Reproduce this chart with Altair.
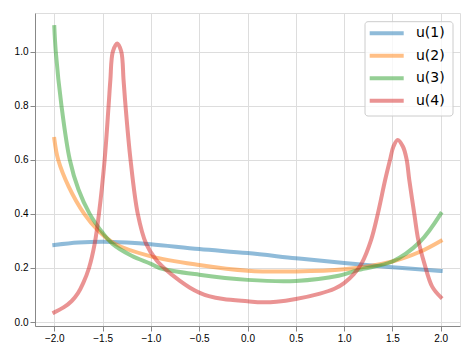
import altair as alt
import pandas as pd

# ---- data ----
x_u1 = [-2.0, -1.75, -1.5, -1.25, -1.0, -0.5, 0.0, 0.5, 1.0, 1.5, 2.0]
y_u1 = [0.285, 0.294, 0.297, 0.294, 0.288, 0.270, 0.255, 0.236, 0.218, 0.203, 0.189]

x_u2 = [-2.0, -1.96, -1.85, -1.69, -1.55, -1.376, -1.0, -0.5, 0.0, 0.5, 1.0, 1.5, 1.786, 2.0]
y_u2 = [0.677, 0.600, 0.500, 0.400, 0.340, 0.290, 0.243, 0.211, 0.190, 0.187, 0.195, 0.224, 0.260, 0.300]

x_u3 = [-2.0, -1.985, -1.926, -1.84, -1.75, -1.634, -1.5, -1.4, -1.2, -1.0, -0.912, -0.5,
        0.0, 0.5, 0.944, 1.15, 1.5, 1.786, 2.0]
y_u3 = [1.090, 1.000, 0.800, 0.600, 0.490, 0.400, 0.330, 0.290, 0.245, 0.215, 0.200, 0.175,
        0.156, 0.152, 0.171, 0.193, 0.224, 0.297, 0.400]

x_u4 = [-2.0, -1.9, -1.82, -1.755, -1.70, -1.641, -1.582, -1.538, -1.479, -1.438, -1.42,
        -1.394, -1.348, -1.307, -1.283, -1.263, -1.211, -1.136, -1.05, -0.946, -0.85, -0.7,
        -0.6, -0.5, -0.4, -0.25, 0.0, 0.15, 0.3, 0.5, 0.75, 0.9, 1.0, 1.1, 1.183, 1.28, 1.349,
        1.425, 1.476, 1.51, 1.555, 1.61, 1.648, 1.675, 1.727, 1.768, 1.83, 1.912, 2.0]
y_u4 = [0.036, 0.055, 0.078, 0.107, 0.145, 0.200, 0.290, 0.400, 0.600, 0.800, 0.894,
        1.000, 1.030, 1.000, 0.894, 0.800, 0.600, 0.400, 0.290, 0.230, 0.195, 0.152,
        0.128, 0.109, 0.096, 0.085, 0.077, 0.073, 0.075, 0.085, 0.105, 0.123, 0.144, 0.177, 0.218, 0.304, 0.400,
        0.525, 0.600, 0.648, 0.673, 0.648, 0.600, 0.525, 0.400, 0.304, 0.218, 0.131, 0.092]

series = ["u(1)", "u(2)", "u(3)", "u(4)"]
colors = ["#1f77b4", "#ff7f0e", "#2ca02c", "#d62728"]
x_ticks = [-2.0, -1.5, -1.0, -0.5, 0.0, 0.5, 1.0, 1.5, 2.0]
y_ticks = [0.0, 0.2, 0.4, 0.6, 0.8, 1.0]

rows = []
for i, (name, xs, ys) in enumerate(zip(series, [x_u1, x_u2, x_u3, x_u4], [y_u1, y_u2, y_u3, y_u4])):
    for j, (xv, yv) in enumerate(zip(xs, ys)):
        rows.append({"series": name, "idx": j, "x": xv, "y": yv})
df = pd.DataFrame(rows)

color_scale = alt.Scale(domain=series, range=colors)

lines = alt.Chart(df).mark_line(
    strokeWidth=4, opacity=0.5, interpolate="catmull-rom", strokeCap="square"
).encode(
    x=alt.X("x:Q", scale=alt.Scale(domain=[-2.2, 2.2], nice=False, zero=False),
            axis=alt.Axis(values=x_ticks, format=".1f", title=None)),
    y=alt.Y("y:Q", scale=alt.Scale(domain=[-0.0145, 1.1425], nice=False, zero=False),
            axis=alt.Axis(values=y_ticks, format=".1f", title=None)),
    color=alt.Color("series:N", scale=color_scale, legend=None),
    detail="series:N",
    order="idx:Q",
)

# ---- legend drawn as marks (upper right, matplotlib style) ----
legend_df = pd.DataFrame({"series": series})
box_df = pd.DataFrame({"k": [0]})

legend_box = alt.Chart(box_df).mark_rect(
    fill="white", fillOpacity=0.8, stroke="#cccccc", strokeWidth=1, cornerRadius=3
).encode(
    x=alt.value(330), x2=alt.value(418), y=alt.value(8.7), y2=alt.value(103)
)

leg_y = alt.Y("series:N", scale=alt.Scale(type="point", domain=series, range=[20.3, 87.7], padding=0),
              axis=None)

legend_lines = alt.Chart(legend_df).mark_rule(strokeWidth=4, opacity=0.5, strokeCap="butt").encode(
    x=alt.value(334.7), x2=alt.value(368.7), y=leg_y,
    color=alt.Color("series:N", scale=color_scale, legend=None),
)

legend_text = alt.Chart(legend_df).mark_text(
    align="left", baseline="middle", fontSize=14, font="DejaVu Sans", color="#000000"
).encode(
    x=alt.value(381), y=leg_y, text="series:N"
)

chart = alt.layer(lines, legend_box, legend_lines, legend_text).resolve_scale(
    y="independent"
).properties(
    width=425, height=313,
    autosize=alt.AutoSizeParams(type="none"),
    padding={"left": 35, "top": 13, "right": 14, "bottom": 29},
).configure_view(
    stroke="#000000", strokeWidth=1
).configure_axis(
    grid=True, gridColor="#b0b0b0", gridWidth=0.8, domain=False,
    tickColor="#000000", tickSize=4, tickWidth=0.8,
    labelFont="DejaVu Sans", labelFontSize=9.5, labelColor="#000000", labelPadding=3,
).configure(background="white")

chart.save("out.html", embed_options={"renderer": "svg", "actions": False})
